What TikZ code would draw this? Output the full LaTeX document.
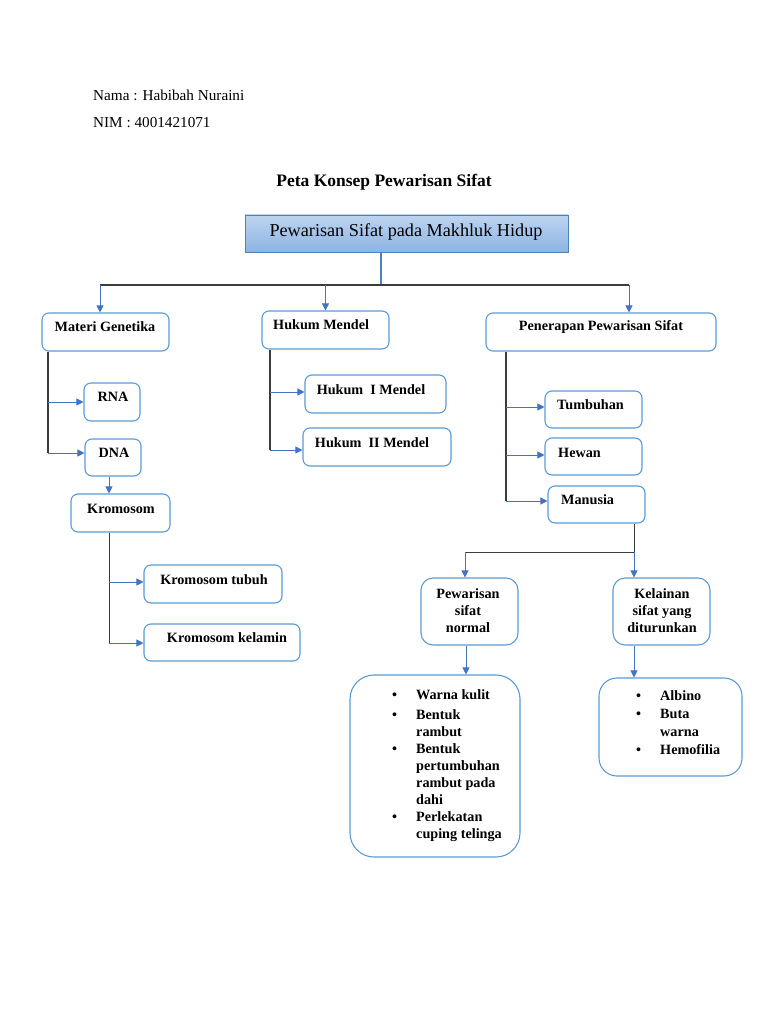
\documentclass[tikz,border=0pt]{standalone}
\usepackage{fontspec}
\setmainfont{Liberation Serif}
\usetikzlibrary{arrows.meta}
\definecolor{bxblue}{RGB}{91,155,213}
\definecolor{arblue}{RGB}{68,114,196}
\definecolor{lngray}{RGB}{60,60,60}
\definecolor{topfill1}{RGB}{190,212,240}
\definecolor{topfill2}{RGB}{141,180,226}
\definecolor{topborder}{RGB}{79,129,189}
\newcommand{\bxfont}{\bfseries\fontsize{14.2}{17}\selectfont}
\tikzset{
  bx/.style={draw=bxblue, line width=1.1pt, rounded corners=7pt, inner sep=0pt},
  bigbx/.style={draw=bxblue, line width=1.1pt, rounded corners=24pt, inner sep=0pt},
  txt/.style={font=\bxfont, inner sep=0pt},
  vln/.style={draw=lngray, line width=1.3pt},
  arr/.style={draw=arblue, line width=0.8pt, -{Triangle[length=7pt,width=7pt]}, color=arblue},
}
\begin{document}
\begin{tikzpicture}[x=1pt,y=-1pt]
\useasboundingbox (0,0) rectangle (768,1024);
\fill[white] (0,0) rectangle (768,1024);

% header
\node[anchor=base west, inner sep=0pt, font=\fontsize{15.2}{18}\selectfont] (nama) at (93,101) {Nama : Habibah Nuraini};
\node[anchor=base west, inner sep=0pt, font=\fontsize{15.2}{18}\selectfont] (nim) at (93,128) {NIM : 4001421071};
\node[anchor=base, inner sep=0pt, font=\bfseries\fontsize{17.5}{20}\selectfont] (title) at (384,187) {Peta Konsep Pewarisan Sifat};

% top box
\node[draw=topborder, line width=0.8pt, top color=topfill1, bottom color=topfill2, minimum width=323, minimum height=37, inner sep=0pt] (top) at (406.5,233.5) {};
\node[inner sep=0pt, font=\fontsize{18.2}{21}\selectfont] (toptxt) at (406,232) {Pewarisan Sifat pada Makhluk Hidup};

% level 1 boxes
\node[bx, minimum width=127, minimum height=38] (mg) at (105.5,332) {};
\node[txt] (mgt) at (105,327) {Materi Genetika};
\node[bx, minimum width=127, minimum height=38] (hm) at (325.5,330) {};
\node[txt, anchor=west] (hmt) at (273,325) {Hukum Mendel};
\node[bx, minimum width=230, minimum height=38] (pp) at (601,332) {};
\node[txt] (ppt) at (601,327) {Penerapan Pewarisan Sifat};

% top connectors
\coordinate (tj) at (381,285);
\coordinate (tl) at (100,285);
\coordinate (tr) at (629,285);
\draw[topborder, line width=1.3pt] (top.south -| tj) -- (tj);
\draw[lngray, line width=1.5pt] (tl) -- (tr);
\draw[arr] (tl) -- (mg.north -| tl);
\draw[arr] (tj -| hm.north) -- (hm.north);
\draw[arr] (tr) -- (pp.north -| tr);

% Materi Genetika branch
\node[bx, minimum width=56, minimum height=38] (rna) at (112,402) {};
\node[txt] (rnat) at (113,397) {RNA};
\node[bx, minimum width=56, minimum height=37] (dna) at (113,457.5) {};
\node[txt] (dnat) at (114,453) {DNA};
\coordinate (mgv) at (48,453);
\draw[vln] (mg.south -| mgv) -- (mgv);
\draw[arr] (rna.west -| mgv) -- (rna.west);
\draw[arr] (mgv) -- (dna.west |- mgv);

\node[bx, minimum width=99, minimum height=38] (kr) at (120.5,513) {};
\node[txt] (krt) at (121,509) {Kromosom};
\draw[arr] (dna.south -| 109,0) -- (kr.north -| 109,0);

\node[bx, minimum width=138, minimum height=38] (kt) at (213,584) {};
\node[txt] (ktt) at (214,580) {Kromosom tubuh};
\node[bx, minimum width=156, minimum height=37] (kk) at (222,642.5) {};
\node[txt] (kkt) at (227,638) {Kromosom kelamin};
\coordinate (krv) at (109,643);
\draw[lngray, line width=0.9pt] (kr.south -| krv) -- (krv);
\draw[arr] (krv |- 0,582) -- (kt.west |- 0,582);
\draw[arr] (krv) -- (kk.west |- krv);

% Hukum Mendel branch
\node[bx, minimum width=141, minimum height=38] (h1) at (375.5,394) {};
\node[txt] (h1t) at (371,390) {Hukum~~I Mendel};
\node[bx, minimum width=148, minimum height=38] (h2) at (377,447) {};
\node[txt] (h2t) at (372,443) {Hukum~~II Mendel};
\coordinate (hmv) at (270,450);
\draw[vln] (hm.south -| hmv) -- (hmv);
\draw[arr] (hmv |- 0,392) -- (h1.west |- 0,392);
\draw[arr] (hmv) -- (h2.west |- hmv);

% Penerapan branch
\node[bx, minimum width=97, minimum height=37] (tb) at (593.5,409.5) {};
\node[txt, anchor=west] (tbt) at (557,405) {Tumbuhan};
\node[bx, minimum width=97, minimum height=37] (hw) at (593.5,456.5) {};
\node[txt, anchor=west] (hwt) at (558,453) {Hewan};
\node[bx, minimum width=97, minimum height=37] (mn) at (596.5,504.5) {};
\node[txt, anchor=west] (mnt) at (561,500) {Manusia};
\coordinate (ppv) at (506,501);
\draw[vln] (pp.south -| ppv) -- (ppv);
\draw[arr] (ppv |- 0,407) -- (tb.west |- 0,407);
\draw[arr] (ppv |- 0,455) -- (hw.west |- 0,455);
\draw[arr] (ppv) -- (mn.west |- ppv);

% Manusia split
\node[bx, rounded corners=12pt, minimum width=97, minimum height=67] (psn) at (469.5,611.5) {};
\node[txt, align=center] (psnt) at (468,611) {Pewarisan\\sifat\\normal};
\node[bx, rounded corners=12pt, minimum width=97, minimum height=67] (ksd) at (661.5,611.5) {};
\node[txt, align=center] (ksdt) at (662,611) {Kelainan\\sifat yang\\diturunkan};
\coordinate (mj) at (634,552);
\coordinate (ml) at (465,552);
\draw[lngray, line width=0.9pt] (mn.south -| mj) -- (mj);
\draw[lngray, line width=0.9pt] (ml) -- (mj);
\draw[arr] (ml) -- (psn.north -| ml);
\draw[arr] (mj) -- (ksd.north -| mj);

% bottom lists
\node[bigbx, minimum width=170, minimum height=182] (l1) at (435,766) {};
\node[txt, anchor=north west] (l1t) at (392,687)
  {\begin{tabular}{@{}p{24pt}@{}l@{}}
   • & Warna kulit\\[3pt]
   • & Bentuk\\
     & rambut\\
   • & Bentuk\\
     & pertumbuhan\\
     & rambut pada\\
     & dahi\\
   • & Perlekatan\\
     & cuping telinga
   \end{tabular}};
\draw[arr] (psn.south -| 466,0) -- (l1.north -| 466,0);

\node[bx, rounded corners=18pt, minimum width=143, minimum height=98] (l2) at (670.5,727) {};
\node[txt, anchor=north west, font=\bfseries\fontsize{14.2}{18}\selectfont] (l2t) at (636,688)
  {\begin{tabular}{@{}p{24pt}@{}l@{}}
   • & Albino\\
   • & Buta\\
     & warna\\
   • & Hemofilia
   \end{tabular}};
\draw[arr] (ksd.south -| 634,0) -- (l2.north -| 634,0);
\end{tikzpicture}
\end{document}
